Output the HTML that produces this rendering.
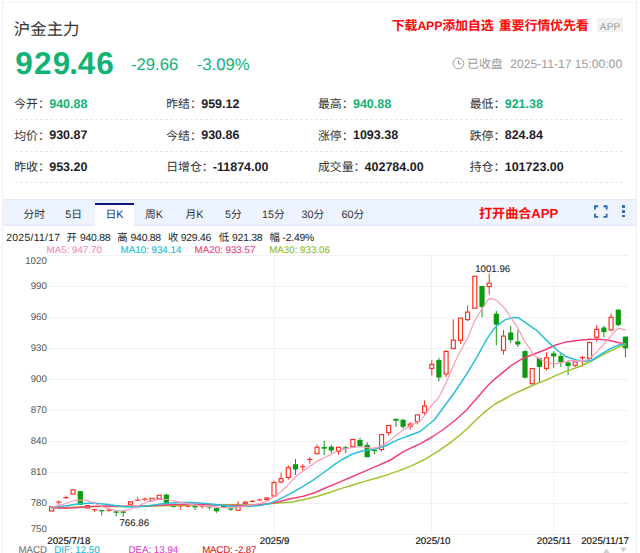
<!DOCTYPE html>
<html lang="zh-CN"><head><meta charset="utf-8"><title>沪金主力 929.46</title>
<style>
html,body{margin:0;padding:0;background:#fff}
body{text-rendering:geometricPrecision;width:640px;height:553px;overflow:hidden;position:relative;font-family:"Liberation Sans","Noto Sans CJK SC",sans-serif;color:#333}
.a{position:absolute;white-space:nowrap;line-height:1}
.title{font-size:16.45px;line-height:22px;color:#333}
.price{font-size:31.5px;font-weight:bold;color:#10b374;letter-spacing:1.2px;line-height:36px}.dot{margin:0 -1.7px 0 -2px}
.chg{font-size:16.7px;color:#10b374;line-height:20px}
.promo{font-size:13px;font-weight:bold;color:#fb0a0a;line-height:17px;letter-spacing:-.16px}
.promo .sp{display:inline-block;width:5.2px}.ap{font-size:12.3px}
.badge{width:25.8px;height:14.3px;background:#f1f1f1;color:#999;font-size:10px;line-height:19.4px;overflow:hidden;text-align:center;letter-spacing:.2px}
.status{font-size:12px;color:#9b9b9b;line-height:16px}
.lab{font-size:11.9px;line-height:18px;color:#333}
.val{font-size:12.5px;font-weight:bold;line-height:18px;color:#1c1c28}
.grn{color:#10b374}
.dash{width:608px;height:1px;background:repeating-linear-gradient(90deg,#e5e5e5 0,#e5e5e5 3px,transparent 3px,transparent 5px)}
.tabbar{background:#eef4ff;box-shadow:inset 0 1.4px 0 #e4e9f7,inset 0 -1.4px 0 #e4e9f7}
.tabact{background:#fff;border-top:2px solid #12127e;box-sizing:border-box}
.tab{width:50px;text-align:center;font-size:10.8px;line-height:17px;color:#333}
.open{font-size:13.1px;font-weight:bold;color:#fb0a0a;line-height:17px}
.info{font-size:10.4px;line-height:14px;color:#222;letter-spacing:-.25px}
.ma{font-size:9.75px;line-height:12px;-webkit-text-stroke:.12px currentColor}
.chart{position:absolute;left:0;top:0}
.yl{width:46.8px;text-align:right;font-size:9.7px;line-height:12px;color:#555}
.xl{font-size:9.7px;line-height:12px;color:#111;-webkit-text-stroke:.16px #111}
.pl{font-size:9.7px;line-height:12px;color:#2a2a2a;-webkit-text-stroke:.12px #2a2a2a}
</style></head>
<body>
<div class="a" style="left:2px;top:2px;width:635px;height:1px;background:#f2f2f2"></div>
<div class="a" style="left:2px;top:0;width:1px;height:553px;background:#f0f0f0"></div>
<div class="a" style="left:636px;top:0;width:1px;height:553px;background:#f0f0f0"></div>
<div class="a title" style="left:13.8px;top:18.7px;">沪金主力</div>
<div class="a price" style="left:15.2px;top:45.1px;">929<span class="dot">.</span>46</div>
<div class="a chg" style="left:131px;top:55px;">-29.66</div>
<div class="a chg" style="left:196.7px;top:55px;">-3.09%</div>
<div class="a promo" style="left:391.7px;top:17px;">下载<span class="ap">APP</span>添加自选<span class="sp"></span>重要行情优先看</div>
<div class="a badge" style="left:597.2px;top:18.1px;">APP</div>
<svg class="a" style="left:452px;top:57px" width="13" height="13" viewBox="0 0 13 13"><circle cx="6.4" cy="6.4" r="5.4" fill="none" stroke="#9a9a9a" stroke-width="1"/><path d="M6.4 3.2V6.8H9.2" fill="none" stroke="#9a9a9a" stroke-width="1"/></svg>
<div class="a status" style="left:467.0px;top:56.3px;font-size:11.9px">已收盘</div>
<div class="a status" style="left:510.3px;top:56px;font-size:12.15px">2025-11-17 15:00:00</div>
<div class="a lab" style="left:14.2px;top:94.60000000000001px;">今开：</div>
<div class="a val grn" style="left:49.2px;top:94.80000000000001px;">940.88</div>
<div class="a lab" style="left:166.2px;top:94.60000000000001px;">昨结：</div>
<div class="a val" style="left:201.2px;top:94.80000000000001px;">959.12</div>
<div class="a lab" style="left:317.95px;top:94.60000000000001px;">最高：</div>
<div class="a val grn" style="left:352.95px;top:94.80000000000001px;">940.88</div>
<div class="a lab" style="left:469.7px;top:94.60000000000001px;">最低：</div>
<div class="a val grn" style="left:504.7px;top:94.80000000000001px;">921.38</div>
<div class="a lab" style="left:14.2px;top:126.50000000000001px;">均价：</div>
<div class="a val" style="left:49.2px;top:126.20000000000002px;">930.87</div>
<div class="a lab" style="left:166.2px;top:126.50000000000001px;">今结：</div>
<div class="a val" style="left:201.2px;top:126.20000000000002px;">930.86</div>
<div class="a lab" style="left:317.95px;top:126.50000000000001px;">涨停：</div>
<div class="a val" style="left:352.95px;top:126.20000000000002px;">1093.38</div>
<div class="a lab" style="left:469.7px;top:126.50000000000001px;">跌停：</div>
<div class="a val" style="left:504.7px;top:126.20000000000002px;">824.84</div>
<div class="a lab" style="left:14.2px;top:158.39999999999998px;">昨收：</div>
<div class="a val" style="left:49.2px;top:158.1px;">953.20</div>
<div class="a lab" style="left:166.2px;top:158.39999999999998px;">日增仓：</div>
<div class="a val" style="left:212.79999999999998px;top:158.1px;">-11874.00</div>
<div class="a lab" style="left:317.95px;top:158.39999999999998px;">成交量：</div>
<div class="a val" style="left:364.55px;top:158.1px;">402784.00</div>
<div class="a lab" style="left:469.7px;top:158.39999999999998px;">持仓：</div>
<div class="a val" style="left:504.7px;top:158.1px;">101723.00</div>
<div class="a dash" style="left:15px;top:119px"></div>
<div class="a dash" style="left:15px;top:150.6px"></div>
<div class="a dash" style="left:15px;top:182.2px"></div>
<div class="a tabbar" style="left:3px;top:199.3px;width:633px;height:26.3px"></div>
<div class="a tabact" style="left:95px;top:202.5px;width:38.8px;height:23.5px"></div>
<div class="a tab" style="left:9.25px;top:207.3px">分时</div>
<div class="a tab" style="left:48.75px;top:207.3px">5日</div>
<div class="a tab" style="left:89.4px;top:207.3px;color:#1b2f7e">日K</div>
<div class="a tab" style="left:129px;top:207.3px">周K</div>
<div class="a tab" style="left:169.4px;top:207.3px">月K</div>
<div class="a tab" style="left:208.4px;top:207.3px">5分</div>
<div class="a tab" style="left:248.5px;top:207.3px">15分</div>
<div class="a tab" style="left:288px;top:207.3px">30分</div>
<div class="a tab" style="left:328px;top:207.3px">60分</div>
<div class="a open" style="left:479px;top:204.5px;">打开曲合APP</div>
<svg class="a" style="left:593px;top:204px" width="16" height="16" viewBox="0 0 16 16"><path d="M2 5.4V2.2H5.2 M10.4 2.2H13.6V5.4 M13.6 9.7V12.9H10.4 M5.2 12.9H2V9.7" fill="none" stroke="#2e6cb6" stroke-width="1.9"/></svg>
<div class="a" style="left:621.8px;top:205.4px;width:2.9px;height:2.8px;background:#2e6cb6;border-radius:.6px"></div>
<div class="a" style="left:621.8px;top:210.0px;width:2.9px;height:2.8px;background:#2e6cb6;border-radius:.6px"></div>
<div class="a" style="left:621.8px;top:214.5px;width:2.9px;height:2.8px;background:#2e6cb6;border-radius:.6px"></div>
<div class="a info" style="left:6.2px;top:231.7px;letter-spacing:.3px">2025/11/17</div>
<div class="a info" style="left:66.4px;top:231.7px;">开</div>
<div class="a info" style="left:80px;top:231.7px;">940.88</div>
<div class="a info" style="left:117.3px;top:231.7px;">高</div>
<div class="a info" style="left:130.6px;top:231.7px;">940.88</div>
<div class="a info" style="left:167.9px;top:231.7px;">收</div>
<div class="a info" style="left:180.7px;top:231.7px;">929.46</div>
<div class="a info" style="left:218.7px;top:231.7px;">低</div>
<div class="a info" style="left:232.1px;top:231.7px;">921.38</div>
<div class="a info" style="left:269.5px;top:231.7px;">幅</div>
<div class="a info" style="left:282.5px;top:231.7px;">-2.49%</div>
<div class="a ma" style="left:46.6px;top:245px;color:#f78fb3">MA5: 947.70</div>
<div class="a ma" style="left:120.6px;top:245px;color:#22bcd8">MA10: 934.14</div>
<div class="a ma" style="left:194.6px;top:245px;color:#ee3f7c">MA20: 933.57</div>
<div class="a ma" style="left:269.2px;top:245px;color:#94bf1f">MA30: 933.06</div>
<svg class="chart" width="640" height="553" viewBox="0 0 640 553">
<path d="M47.5 534.5 H628.5" stroke="#f1f1f1" stroke-width="1"/>
<path d="M47.5 503.5 H628.5" stroke="#f1f1f1" stroke-width="1"/>
<path d="M47.5 472.5 H628.5" stroke="#f1f1f1" stroke-width="1"/>
<path d="M47.5 441.5 H628.5" stroke="#f1f1f1" stroke-width="1"/>
<path d="M47.5 410.5 H628.5" stroke="#f1f1f1" stroke-width="1"/>
<path d="M47.5 379.5 H628.5" stroke="#f1f1f1" stroke-width="1"/>
<path d="M47.5 348.5 H628.5" stroke="#f1f1f1" stroke-width="1"/>
<path d="M47.5 317.5 H628.5" stroke="#f1f1f1" stroke-width="1"/>
<path d="M47.5 286.5 H628.5" stroke="#f1f1f1" stroke-width="1"/>
<path d="M47.5 255.5 H628.5" stroke="#f1f1f1" stroke-width="1"/>
<path d="M274.0 255 V534" stroke="#f0f0f0" stroke-width="1"/>
<path d="M431.5 255 V534" stroke="#f0f0f0" stroke-width="1"/>
<path d="M553.7 255 V534" stroke="#f0f0f0" stroke-width="1"/>
<rect x="49.6" y="506.7" width="4.0" height="4.3" fill="#fff" stroke="#fb2c18" stroke-width="1.15"/>
<path d="M58.8 500.6 V501.7" stroke="#fb2c18" stroke-width="1"/>
<path d="M58.8 502.4 V504.6" stroke="#fb2c18" stroke-width="1"/>
<path d="M56.2 502.0 H61.4" stroke="#fb2c18" stroke-width="1.2"/>
<path d="M65.9 495.5 V497.3" stroke="#fb2c18" stroke-width="1"/>
<path d="M65.9 498.0 V498.8" stroke="#fb2c18" stroke-width="1"/>
<path d="M63.3 497.6 H68.5" stroke="#fb2c18" stroke-width="1.2"/>
<rect x="71.1" y="489.8" width="4.0" height="4.3" fill="#fff" stroke="#fb2c18" stroke-width="1.15"/>
<path d="M80.3 491.1 V504.8" stroke="#0a9b10" stroke-width="1"/>
<rect x="77.7" y="491.1" width="5.2" height="13.7" fill="#0a9b10"/>
<rect x="85.5" y="505.6" width="4.0" height="2.4" fill="#fff" stroke="#fb2c18" stroke-width="1.15"/>
<path d="M94.6 509.0 V509.2" stroke="#fb2c18" stroke-width="1"/>
<path d="M94.6 510.2 V512.2" stroke="#fb2c18" stroke-width="1"/>
<path d="M92.0 509.7 H97.2" stroke="#fb2c18" stroke-width="1.2"/>
<path d="M101.8 509.8 V515.6" stroke="#0a9b10" stroke-width="1"/>
<rect x="99.2" y="510.0" width="5.2" height="1.3" fill="#0a9b10"/>
<path d="M109.0 508.0 V509.9" stroke="#fb2c18" stroke-width="1"/>
<path d="M109.0 510.6 V512.3" stroke="#fb2c18" stroke-width="1"/>
<path d="M106.4 510.2 H111.6" stroke="#fb2c18" stroke-width="1.2"/>
<path d="M116.2 511.2 V516.3" stroke="#0a9b10" stroke-width="1"/>
<rect x="113.6" y="511.4" width="5.2" height="1.4" fill="#0a9b10"/>
<path d="M123.3 510.2 V516.6" stroke="#0a9b10" stroke-width="1"/>
<rect x="120.7" y="511.4" width="5.2" height="1.4" fill="#0a9b10"/>
<rect x="128.5" y="501.8" width="4.0" height="2.5" fill="#fff" stroke="#fb2c18" stroke-width="1.15"/>
<path d="M137.7 497.1 V499.8" stroke="#fb2c18" stroke-width="1"/>
<path d="M135.1 500.2 H140.3" stroke="#fb2c18" stroke-width="1.2"/>
<path d="M144.8 497.5 V498.9" stroke="#fb2c18" stroke-width="1"/>
<path d="M144.8 499.6 V500.9" stroke="#fb2c18" stroke-width="1"/>
<path d="M142.2 499.2 H147.4" stroke="#fb2c18" stroke-width="1.2"/>
<rect x="150.0" y="498.3" width="4.0" height="2.3" fill="#fff" stroke="#fb2c18" stroke-width="1.15"/>
<rect x="157.2" y="495.3" width="4.0" height="3.4" fill="#fff" stroke="#fb2c18" stroke-width="1.15"/>
<path d="M166.4 493.6 V503.4" stroke="#0a9b10" stroke-width="1"/>
<rect x="163.8" y="494.6" width="5.2" height="8.8" fill="#0a9b10"/>
<path d="M173.5 505.0 V507.3" stroke="#0a9b10" stroke-width="1"/>
<rect x="170.9" y="505.3" width="5.2" height="1.8" fill="#0a9b10"/>
<path d="M180.7 505.5 V505.6" stroke="#fb2c18" stroke-width="1"/>
<path d="M180.7 506.3 V509.8" stroke="#fb2c18" stroke-width="1"/>
<path d="M178.1 506.0 H183.3" stroke="#fb2c18" stroke-width="1.2"/>
<path d="M187.9 505.0 V505.8" stroke="#fb2c18" stroke-width="1"/>
<path d="M187.9 506.6 V507.5" stroke="#fb2c18" stroke-width="1"/>
<path d="M185.3 506.2 H190.5" stroke="#fb2c18" stroke-width="1.2"/>
<path d="M195.1 505.6 V510.0" stroke="#0a9b10" stroke-width="1"/>
<rect x="192.5" y="506.0" width="5.2" height="1.3" fill="#0a9b10"/>
<path d="M202.2 505.0 V505.8" stroke="#fb2c18" stroke-width="1"/>
<path d="M202.2 506.6 V508.5" stroke="#fb2c18" stroke-width="1"/>
<path d="M199.6 506.2 H204.8" stroke="#fb2c18" stroke-width="1.2"/>
<path d="M209.4 505.8 V509.4" stroke="#0a9b10" stroke-width="1"/>
<rect x="206.8" y="506.3" width="5.2" height="1.3" fill="#0a9b10"/>
<path d="M216.6 507.5 V512.8" stroke="#0a9b10" stroke-width="1"/>
<rect x="214.0" y="508.1" width="5.2" height="3.2" fill="#0a9b10"/>
<path d="M223.8 505.8 V508.2" stroke="#0a9b10" stroke-width="1"/>
<rect x="221.2" y="506.0" width="5.2" height="1.3" fill="#0a9b10"/>
<path d="M230.9 507.6 V510.8" stroke="#0a9b10" stroke-width="1"/>
<rect x="228.3" y="508.4" width="5.2" height="1.3" fill="#0a9b10"/>
<path d="M238.1 501.2 V505.0" stroke="#fb2c18" stroke-width="1"/>
<rect x="236.1" y="505.3" width="4.0" height="5.0" fill="#fff" stroke="#fb2c18" stroke-width="1.15"/>
<path d="M245.3 501.0 V501.9" stroke="#fb2c18" stroke-width="1"/>
<path d="M245.3 504.0 V504.4" stroke="#fb2c18" stroke-width="1"/>
<rect x="243.3" y="502.2" width="4.0" height="1.5" fill="#fff" stroke="#fb2c18" stroke-width="1.15"/>
<path d="M252.4 500.0 V500.8" stroke="#fb2c18" stroke-width="1"/>
<path d="M252.4 501.9 V502.3" stroke="#fb2c18" stroke-width="1"/>
<path d="M249.8 501.4 H255.0" stroke="#fb2c18" stroke-width="1.2"/>
<path d="M259.6 498.6 V499.4" stroke="#fb2c18" stroke-width="1"/>
<path d="M259.6 500.4 V501.0" stroke="#fb2c18" stroke-width="1"/>
<path d="M257.0 499.9 H262.2" stroke="#fb2c18" stroke-width="1.2"/>
<path d="M266.8 497.2 V497.7" stroke="#fb2c18" stroke-width="1"/>
<path d="M266.8 499.8 V500.2" stroke="#fb2c18" stroke-width="1"/>
<rect x="264.8" y="498.0" width="4.0" height="1.5" fill="#fff" stroke="#fb2c18" stroke-width="1.15"/>
<path d="M274.0 480.5 V482.2" stroke="#fb2c18" stroke-width="1"/>
<rect x="272.0" y="482.5" width="4.0" height="13.5" fill="#fff" stroke="#fb2c18" stroke-width="1.15"/>
<path d="M281.1 472.6 V478.3" stroke="#fb2c18" stroke-width="1"/>
<path d="M281.1 482.2 V483.6" stroke="#fb2c18" stroke-width="1"/>
<rect x="279.1" y="478.6" width="4.0" height="3.3" fill="#fff" stroke="#fb2c18" stroke-width="1.15"/>
<path d="M288.3 465.3 V467.4" stroke="#fb2c18" stroke-width="1"/>
<path d="M288.3 477.7 V479.7" stroke="#fb2c18" stroke-width="1"/>
<rect x="286.3" y="467.7" width="4.0" height="9.7" fill="#fff" stroke="#fb2c18" stroke-width="1.15"/>
<path d="M295.5 459.0 V474.9" stroke="#0a9b10" stroke-width="1"/>
<rect x="292.9" y="464.2" width="5.2" height="5.3" fill="#0a9b10"/>
<path d="M302.7 464.2 V466.3" stroke="#fb2c18" stroke-width="1"/>
<path d="M302.7 467.1 V470.7" stroke="#fb2c18" stroke-width="1"/>
<path d="M300.1 466.7 H305.3" stroke="#fb2c18" stroke-width="1.2"/>
<path d="M309.8 457.2 V459.0" stroke="#fb2c18" stroke-width="1"/>
<path d="M309.8 459.8 V463.9" stroke="#fb2c18" stroke-width="1"/>
<path d="M307.2 459.4 H312.4" stroke="#fb2c18" stroke-width="1.2"/>
<path d="M317.0 444.5 V447.0" stroke="#fb2c18" stroke-width="1"/>
<rect x="315.0" y="447.3" width="4.0" height="6.4" fill="#fff" stroke="#fb2c18" stroke-width="1.15"/>
<path d="M324.2 440.7 V454.8" stroke="#0a9b10" stroke-width="1"/>
<rect x="321.6" y="447.0" width="5.2" height="1.7" fill="#0a9b10"/>
<path d="M331.3 445.0 V453.2" stroke="#0a9b10" stroke-width="1"/>
<rect x="328.7" y="446.7" width="5.2" height="3.8" fill="#0a9b10"/>
<path d="M338.5 451.6 V454.8" stroke="#fb2c18" stroke-width="1"/>
<rect x="336.5" y="447.3" width="4.0" height="4.0" fill="#fff" stroke="#fb2c18" stroke-width="1.15"/>
<path d="M345.7 446.0 V453.0" stroke="#0a9b10" stroke-width="1"/>
<rect x="343.1" y="447.2" width="5.2" height="1.8" fill="#0a9b10"/>
<rect x="350.9" y="439.5" width="4.0" height="7.2" fill="#fff" stroke="#fb2c18" stroke-width="1.15"/>
<path d="M360.0 437.8 V446.3" stroke="#0a9b10" stroke-width="1"/>
<rect x="357.4" y="440.0" width="5.2" height="6.3" fill="#0a9b10"/>
<path d="M367.2 442.3 V457.2" stroke="#0a9b10" stroke-width="1"/>
<rect x="364.6" y="444.9" width="5.2" height="12.3" fill="#0a9b10"/>
<path d="M374.4 449.2 V454.4" stroke="#0a9b10" stroke-width="1"/>
<rect x="371.8" y="449.5" width="5.2" height="1.5" fill="#0a9b10"/>
<path d="M381.6 449.8 V451.6" stroke="#fb2c18" stroke-width="1"/>
<rect x="379.6" y="434.6" width="4.0" height="14.9" fill="#fff" stroke="#fb2c18" stroke-width="1.15"/>
<path d="M388.7 432.9 V435.7" stroke="#fb2c18" stroke-width="1"/>
<rect x="386.7" y="425.5" width="4.0" height="7.1" fill="#fff" stroke="#fb2c18" stroke-width="1.15"/>
<path d="M395.9 418.8 V426.8" stroke="#0a9b10" stroke-width="1"/>
<rect x="393.3" y="418.8" width="5.2" height="1.9" fill="#0a9b10"/>
<path d="M403.1 418.8 V428.7" stroke="#0a9b10" stroke-width="1"/>
<rect x="400.5" y="419.8" width="5.2" height="7.0" fill="#0a9b10"/>
<path d="M410.2 422.0 V423.8" stroke="#fb2c18" stroke-width="1"/>
<path d="M410.2 426.6 V429.7" stroke="#fb2c18" stroke-width="1"/>
<rect x="408.2" y="424.1" width="4.0" height="2.2" fill="#fff" stroke="#fb2c18" stroke-width="1.15"/>
<path d="M417.4 422.0 V424.5" stroke="#fb2c18" stroke-width="1"/>
<rect x="415.4" y="414.9" width="4.0" height="6.8" fill="#fff" stroke="#fb2c18" stroke-width="1.15"/>
<path d="M424.6 400.3 V405.7" stroke="#fb2c18" stroke-width="1"/>
<path d="M424.6 413.0 V415.4" stroke="#fb2c18" stroke-width="1"/>
<rect x="422.6" y="406.0" width="4.0" height="6.7" fill="#fff" stroke="#fb2c18" stroke-width="1.15"/>
<path d="M431.8 360.1 V364.2" stroke="#fb2c18" stroke-width="1"/>
<path d="M431.8 368.7 V375.6" stroke="#fb2c18" stroke-width="1"/>
<rect x="429.8" y="364.5" width="4.0" height="3.9" fill="#fff" stroke="#fb2c18" stroke-width="1.15"/>
<path d="M438.9 357.7 V381.3" stroke="#0a9b10" stroke-width="1"/>
<rect x="436.3" y="360.1" width="5.2" height="17.4" fill="#0a9b10"/>
<path d="M446.1 349.9 V351.2" stroke="#fb2c18" stroke-width="1"/>
<path d="M446.1 374.3 V377.2" stroke="#fb2c18" stroke-width="1"/>
<rect x="444.1" y="351.5" width="4.0" height="22.5" fill="#fff" stroke="#fb2c18" stroke-width="1.15"/>
<path d="M453.3 319.4 V339.9" stroke="#fb2c18" stroke-width="1"/>
<rect x="451.3" y="340.2" width="4.0" height="8.5" fill="#fff" stroke="#fb2c18" stroke-width="1.15"/>
<path d="M460.5 340.6 V343.8" stroke="#fb2c18" stroke-width="1"/>
<rect x="458.5" y="318.1" width="4.0" height="22.2" fill="#fff" stroke="#fb2c18" stroke-width="1.15"/>
<path d="M467.6 305.6 V311.8" stroke="#fb2c18" stroke-width="1"/>
<path d="M467.6 319.9 V321.0" stroke="#fb2c18" stroke-width="1"/>
<rect x="465.6" y="312.1" width="4.0" height="7.5" fill="#fff" stroke="#fb2c18" stroke-width="1.15"/>
<rect x="472.8" y="276.3" width="4.0" height="31.9" fill="#fff" stroke="#fb2c18" stroke-width="1.15"/>
<path d="M482.0 286.0 V317.3" stroke="#0a9b10" stroke-width="1"/>
<rect x="479.4" y="286.0" width="5.2" height="20.9" fill="#0a9b10"/>
<path d="M489.2 273.8 V282.8" stroke="#fb2c18" stroke-width="1"/>
<path d="M489.2 286.9 V294.5" stroke="#fb2c18" stroke-width="1"/>
<rect x="487.2" y="283.1" width="4.0" height="3.5" fill="#fff" stroke="#fb2c18" stroke-width="1.15"/>
<path d="M496.3 310.8 V345.3" stroke="#0a9b10" stroke-width="1"/>
<rect x="493.7" y="313.7" width="5.2" height="10.9" fill="#0a9b10"/>
<path d="M503.5 329.9 V335.8" stroke="#fb2c18" stroke-width="1"/>
<path d="M503.5 350.6 V354.6" stroke="#fb2c18" stroke-width="1"/>
<rect x="501.5" y="336.1" width="4.0" height="14.2" fill="#fff" stroke="#fb2c18" stroke-width="1.15"/>
<path d="M510.7 326.0 V342.8" stroke="#0a9b10" stroke-width="1"/>
<rect x="508.1" y="332.5" width="5.2" height="7.6" fill="#0a9b10"/>
<path d="M517.8 329.8 V347.0" stroke="#0a9b10" stroke-width="1"/>
<rect x="515.2" y="341.5" width="5.2" height="3.0" fill="#0a9b10"/>
<path d="M525.0 350.2 V378.6" stroke="#0a9b10" stroke-width="1"/>
<rect x="522.4" y="351.1" width="5.2" height="26.6" fill="#0a9b10"/>
<path d="M532.2 368.0 V368.3" stroke="#fb2c18" stroke-width="1"/>
<path d="M532.2 384.0 V384.4" stroke="#fb2c18" stroke-width="1"/>
<rect x="530.2" y="368.6" width="4.0" height="15.1" fill="#fff" stroke="#fb2c18" stroke-width="1.15"/>
<path d="M539.4 358.2 V382.8" stroke="#0a9b10" stroke-width="1"/>
<rect x="536.8" y="358.2" width="5.2" height="8.7" fill="#0a9b10"/>
<path d="M546.5 352.4 V357.5" stroke="#fb2c18" stroke-width="1"/>
<path d="M546.5 368.7 V370.5" stroke="#fb2c18" stroke-width="1"/>
<rect x="544.5" y="357.8" width="4.0" height="10.6" fill="#fff" stroke="#fb2c18" stroke-width="1.15"/>
<path d="M553.7 351.1 V367.8" stroke="#0a9b10" stroke-width="1"/>
<rect x="551.1" y="353.3" width="5.2" height="3.1" fill="#0a9b10"/>
<path d="M560.9 353.3 V366.9" stroke="#0a9b10" stroke-width="1"/>
<rect x="558.3" y="356.0" width="5.2" height="6.2" fill="#0a9b10"/>
<path d="M568.1 360.3 V375.0" stroke="#0a9b10" stroke-width="1"/>
<rect x="565.5" y="362.5" width="5.2" height="3.6" fill="#0a9b10"/>
<path d="M575.2 365.6 V367.3" stroke="#fb2c18" stroke-width="1"/>
<rect x="573.2" y="361.9" width="4.0" height="3.4" fill="#fff" stroke="#fb2c18" stroke-width="1.15"/>
<path d="M582.4 356.0 V357.2" stroke="#fb2c18" stroke-width="1"/>
<path d="M582.4 358.0 V366.5" stroke="#fb2c18" stroke-width="1"/>
<path d="M579.8 357.6 H585.0" stroke="#fb2c18" stroke-width="1.2"/>
<path d="M589.6 358.7 V360.9" stroke="#fb2c18" stroke-width="1"/>
<rect x="587.6" y="342.5" width="4.0" height="15.9" fill="#fff" stroke="#fb2c18" stroke-width="1.15"/>
<path d="M596.7 325.1 V329.1" stroke="#fb2c18" stroke-width="1"/>
<path d="M596.7 337.6 V341.8" stroke="#fb2c18" stroke-width="1"/>
<rect x="594.7" y="329.4" width="4.0" height="7.9" fill="#fff" stroke="#fb2c18" stroke-width="1.15"/>
<path d="M603.9 325.6 V337.3" stroke="#0a9b10" stroke-width="1"/>
<rect x="601.3" y="327.5" width="5.2" height="4.6" fill="#0a9b10"/>
<path d="M611.1 313.7 V317.0" stroke="#fb2c18" stroke-width="1"/>
<path d="M611.1 330.3 V331.1" stroke="#fb2c18" stroke-width="1"/>
<rect x="609.1" y="317.3" width="4.0" height="12.7" fill="#fff" stroke="#fb2c18" stroke-width="1.15"/>
<path d="M618.3 309.6 V326.2" stroke="#0a9b10" stroke-width="1"/>
<rect x="615.7" y="309.6" width="5.2" height="15.5" fill="#0a9b10"/>
<path d="M625.4 336.6 V357.3" stroke="#0a9b10" stroke-width="1"/>
<rect x="622.8" y="336.6" width="5.2" height="11.7" fill="#0a9b10"/>
<path d="M51.6 507.8 L65.0 507.6 L79.0 507.0 L93.0 506.6 L108.0 506.4 L122.0 506.6 L136.0 506.6 L150.0 506.2 L164.0 505.8 L178.0 505.4 L192.0 505.0 L206.0 504.9 L220.0 504.7 L234.0 504.8 L250.0 505.0 L262.0 504.4 L275.3 503.3 L292.2 501.9 L306.3 499.0 L317.5 496.3 L328.8 492.7 L340.0 488.9 L352.0 485.2 L364.0 481.6 L376.0 478.2 L388.0 474.6 L400.0 470.4 L412.0 465.6 L424.0 459.8 L436.0 452.6 L448.0 444.4 L460.0 435.0 L468.0 428.0 L476.6 419.2 L486.4 410.6 L495.0 404.0 L502.7 400.0 L511.7 394.9 L522.5 390.0 L533.4 385.0 L545.4 380.4 L555.1 375.9 L565.9 371.4 L579.5 366.5 L589.3 362.0 L599.0 356.8 L608.8 351.9 L618.5 347.0 L625.5 344.7" fill="none" stroke="#9cc42e" stroke-width="1.5" stroke-linejoin="round" stroke-linecap="round"/>
<path d="M51.6 507.6 L65.0 508.2 L79.0 507.4 L93.0 506.4 L108.0 506.0 L122.0 506.2 L136.0 506.2 L150.0 505.8 L164.0 505.0 L178.0 504.4 L192.0 504.2 L206.0 504.6 L220.0 505.2 L234.0 505.6 L250.0 505.2 L262.0 504.4 L275.3 502.4 L289.4 499.0 L303.4 496.3 L314.7 492.7 L326.0 487.8 L340.0 481.9 L352.0 476.8 L364.0 471.6 L376.0 466.4 L390.5 460.0 L403.1 451.9 L411.6 447.7 L420.0 443.9 L432.0 437.0 L444.0 429.0 L455.5 420.0 L466.8 409.8 L476.6 398.4 L486.4 387.0 L495.0 378.8 L500.8 374.1 L511.7 365.1 L522.5 358.7 L533.4 354.2 L545.4 349.7 L555.1 345.2 L565.9 341.9 L579.5 340.2 L589.3 339.2 L599.0 339.2 L608.8 340.2 L616.9 342.2 L625.5 344.0" fill="none" stroke="#f33f7c" stroke-width="1.5" stroke-linejoin="round" stroke-linecap="round"/>
<path d="M51.6 507.0 L65.0 506.0 L79.0 503.8 L93.0 503.0 L108.0 504.4 L122.0 506.4 L136.0 507.0 L150.0 505.6 L164.0 503.6 L178.0 502.6 L192.0 502.5 L206.0 503.5 L220.0 505.1 L234.0 506.4 L250.0 506.3 L260.0 505.4 L269.7 503.4 L278.1 499.9 L289.4 494.2 L300.6 487.8 L311.9 480.8 L323.1 473.0 L334.4 464.6 L341.3 460.0 L352.5 454.0 L363.8 450.5 L375.0 449.0 L386.3 445.5 L397.5 439.9 L408.8 435.7 L420.0 431.5 L434.3 420.0 L444.1 406.5 L453.8 393.5 L466.8 373.9 L476.6 357.7 L486.4 339.8 L492.9 330.2 L497.2 325.3 L505.1 319.9 L511.6 317.8 L518.1 317.6 L524.6 321.8 L530.0 325.9 L537.0 330.7 L547.8 341.6 L558.7 351.5 L566.5 356.8 L576.3 360.0 L586.0 361.3 L592.5 360.0 L602.3 353.5 L612.0 347.8 L618.5 345.1 L625.5 343.8" fill="none" stroke="#2abedc" stroke-width="1.5" stroke-linejoin="round" stroke-linecap="round"/>
<path d="M51.6 507.2 L58.0 505.8 L65.0 503.8 L72.0 501.2 L79.0 500.0 L86.0 500.4 L93.0 502.5 L100.0 505.8 L108.0 508.6 L118.0 510.8 L125.0 510.6 L132.0 508.5 L140.0 505.0 L148.0 501.8 L156.0 499.6 L163.0 499.0 L170.0 500.0 L178.0 501.8 L188.0 503.9 L198.0 505.4 L208.0 506.4 L218.0 507.3 L228.0 507.6 L238.0 506.8 L246.0 505.8 L254.0 504.6 L260.0 503.4 L267.5 500.9 L272.2 498.0 L278.8 493.4 L286.3 486.8 L296.4 475.9 L306.3 468.8 L317.5 461.1 L328.8 455.5 L338.4 450.5 L346.9 448.4 L355.3 447.0 L363.8 447.0 L372.2 448.4 L377.8 447.4 L386.3 443.4 L394.7 436.4 L403.1 430.1 L411.6 425.2 L421.3 420.0 L429.4 408.1 L439.2 396.7 L445.7 383.7 L453.8 364.2 L462.0 347.9 L467.7 338.1 L474.2 321.8 L481.5 309.6 L488.8 298.7 L493.0 298.9 L497.0 300.7 L505.1 308.8 L511.6 318.6 L518.1 328.4 L524.6 341.4 L530.0 348.7 L533.4 355.1 L542.4 360.5 L553.3 364.2 L562.3 362.4 L571.3 360.6 L579.5 360.9 L586.0 360.2 L589.3 359.2 L597.4 351.1 L607.2 340.5 L613.7 332.4 L618.5 328.3 L625.5 329.8" fill="none" stroke="#f99abb" stroke-width="1.2" stroke-linejoin="round" stroke-linecap="round"/>
<path d="M603.4 553 L606.5 548.2 L609.6 553Z" fill="#d0d0d0"/>
<path d="M620.3 547.4 H626.5 L623.4 552.6Z" fill="#d0d0d0"/>
</svg>
<div class="a yl" style="left:0;top:523.8px">750</div>
<div class="a yl" style="left:0;top:497.9px">780</div>
<div class="a yl" style="left:0;top:466.9px">810</div>
<div class="a yl" style="left:0;top:435.9px">840</div>
<div class="a yl" style="left:0;top:404.9px">870</div>
<div class="a yl" style="left:0;top:373.9px">900</div>
<div class="a yl" style="left:0;top:342.9px">930</div>
<div class="a yl" style="left:0;top:311.9px">960</div>
<div class="a yl" style="left:0;top:280.9px">990</div>
<div class="a yl" style="left:0;top:255.8px">1020</div>
<div class="a xl" style="left:47.3px;top:536.2px;">2025/7/18</div>
<div class="a xl" style="left:244.60000000000002px;top:536.2px;width:60px;text-align:center">2025/9</div>
<div class="a xl" style="left:403px;top:536.2px;width:60px;text-align:center">2025/10</div>
<div class="a xl" style="left:524px;top:536.2px;width:60px;text-align:center">2025/11</div>
<div class="a xl" style="left:529px;top:536.2px;width:100px;text-align:right">2025/11/17</div>
<div class="a pl" style="left:475.2px;top:263.8px;">1001.96</div>
<div class="a pl" style="left:119.4px;top:518.0px;">766.86</div>
<div class="a ma" style="left:18.4px;top:545.4px;color:#7a7a7a">MACD</div>
<div class="a ma" style="left:54.2px;top:545.4px;color:#22bcd8">DIF: 12.50</div>
<div class="a ma" style="left:128.4px;top:545.4px;color:#dc46c8">DEA: 13.94</div>
<div class="a ma" style="left:202.2px;top:545.4px;color:#dc2626;letter-spacing:-.22px">MACD: -2.87</div>
</body></html>
